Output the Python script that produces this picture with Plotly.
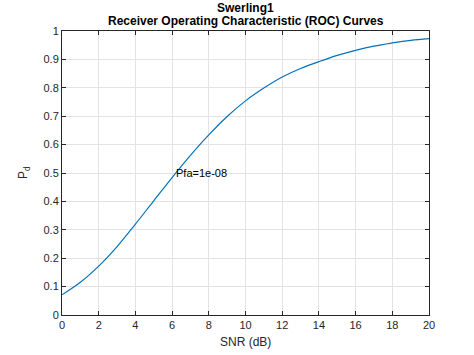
import plotly.graph_objects as go

snr_db = [0, 1, 2, 3, 4, 5, 6, 7, 8, 9, 10, 11, 12, 13, 14, 15, 16, 17, 18, 19, 20]
pd_vals = [0.071, 0.115, 0.172, 0.241, 0.320, 0.402, 0.484, 0.562, 0.634, 0.699, 0.754,
           0.799, 0.838, 0.868, 0.892, 0.914, 0.932, 0.947, 0.958, 0.967, 0.973]
x_ticks = [0, 2, 4, 6, 8, 10, 12, 14, 16, 18, 20]
y_ticks = [0, 0.1, 0.2, 0.3, 0.4, 0.5, 0.6, 0.7, 0.8, 0.9, 1]
title_lines = ["Swerling1", "Receiver Operating Characteristic (ROC) Curves"]
x_title = "SNR (dB)"
y_title = "P<sub>d</sub>"
label_text = "Pfa=1e-08"
label_x = 6.1
label_y = 0.5

FONT = "Liberation Sans, Arial, sans-serif"
W, H = 474, 355
L, R, T, B = 62, 45, 31, 40
PH = H - T - B
PW = W - L - R

fig = go.Figure()
fig.add_trace(go.Scatter(x=snr_db, y=pd_vals, mode="lines",
                         line=dict(color="#0072BD", width=1.2, shape="spline", smoothing=1.0),
                         showlegend=False, hoverinfo="skip"))
fig.add_annotation(x=label_x, y=label_y, text=label_text, showarrow=False, xanchor="left", yanchor="middle",
                   font=dict(family=FONT, size=11, color="#000000"))

# titles
fig.add_annotation(xref="paper", yref="paper", x=0.5, y=1 + (T - 8) / PH, text="<b>%s</b>" % title_lines[0],
                   showarrow=False, xanchor="center", yanchor="middle",
                   font=dict(family=FONT, size=12, color="#000000"))
fig.add_annotation(xref="paper", yref="paper", x=0.5, y=1 + (T - 20.5) / PH, text="<b>%s</b>" % title_lines[1],
                   showarrow=False, xanchor="center", yanchor="middle",
                   font=dict(family=FONT, size=12, color="#000000"))
fig.add_annotation(xref="paper", yref="paper", x=(24 - L) / PW, y=0.5, text=y_title, textangle=-90,
                   showarrow=False, xanchor="center", yanchor="middle",
                   font=dict(family=FONT, size=12, color="#262626"))
fig.add_annotation(xref="paper", yref="paper", x=0.5, y=-(341.5 - (H - B)) / PH, text=x_title,
                   showarrow=False, xanchor="center", yanchor="middle",
                   font=dict(family=FONT, size=12, color="#262626"))

axis_common = dict(showline=True, linecolor="#262626", linewidth=1, mirror="ticks", ticks="inside",
                   ticklen=4, tickcolor="#262626", showgrid=True, gridcolor="#E3E3E3", gridwidth=1,
                   zeroline=False, tickfont=dict(family=FONT, size=11, color="#262626"))

fig.update_layout(
    width=W, height=H,
    margin=dict(l=L, r=R, t=T, b=B),
    paper_bgcolor="white", plot_bgcolor="white",
    xaxis=dict(range=[0, 20], tickvals=x_ticks, ticktext=[str(v) for v in x_ticks], **axis_common),
    yaxis=dict(range=[0, 1], tickvals=y_ticks, ticktext=[("%g" % v) for v in y_ticks], **axis_common),
)

fig.write_html("out.html", config={"displayModeBar": False},
               post_script="document.body.style.margin='0px';")
